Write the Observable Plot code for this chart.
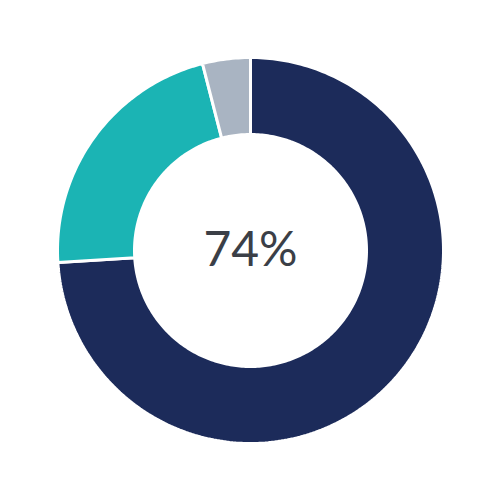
<!DOCTYPE html>
<html>
<head>
<meta charset="utf-8">
<script src="https://cdn.jsdelivr.net/npm/d3@7"></script>
<script src="https://cdn.jsdelivr.net/npm/@observablehq/plot@0.6"></script>
<style>
  html, body { margin: 0; padding: 0; background: #fff; }
</style>
</head>
<body>
<div id="chart"></div>
<script>
const categories = ["A", "B", "C"];
const values = [74, 22, 4];
const colors = ["#1c2b5a", "#1bb4b4", "#a9b4c2"];
const centerLabel = "74%";

const outerR = 193, innerR = 116;
const pie = d3.pie().sort(null).value(d => d.value);
const arcs = pie(categories.map((c, i) => ({name: c, value: values[i]})));

const pts = [];
for (const a of arcs) {
  const n = Math.max(4, Math.ceil((a.endAngle - a.startAngle) * 60));
  const ring = [];
  for (let k = 0; k <= n; k++) {
    const t = a.startAngle + (a.endAngle - a.startAngle) * k / n;
    ring.push({name: a.data.name, x: outerR * Math.sin(t), y: outerR * Math.cos(t)});
  }
  for (let k = n; k >= 0; k--) {
    const t = a.startAngle + (a.endAngle - a.startAngle) * k / n;
    ring.push({name: a.data.name, x: innerR * Math.sin(t), y: innerR * Math.cos(t)});
  }
  ring.push({...ring[0]});
  pts.push(...ring);
}

const chart = Plot.plot({
  width: 500,
  height: 500,
  margin: 0,
  x: {domain: [-250, 250], axis: null},
  y: {domain: [-250, 250], axis: null},
  color: {domain: categories, range: colors},
  marks: [
    Plot.line(pts, {x: "x", y: "y", z: "name", fill: "name", stroke: "white", strokeWidth: 3, strokeLinejoin: "miter", curve: "linear"}),
    Plot.text([centerLabel], {x: () => 0, y: () => 0, text: d => d, fontSize: 48, fill: "#3b3f47", fontFamily: "Lato", fontWeight: 400, dy: 0})
  ]
});
document.getElementById("chart").appendChild(chart);
</script>
</body>
</html>
